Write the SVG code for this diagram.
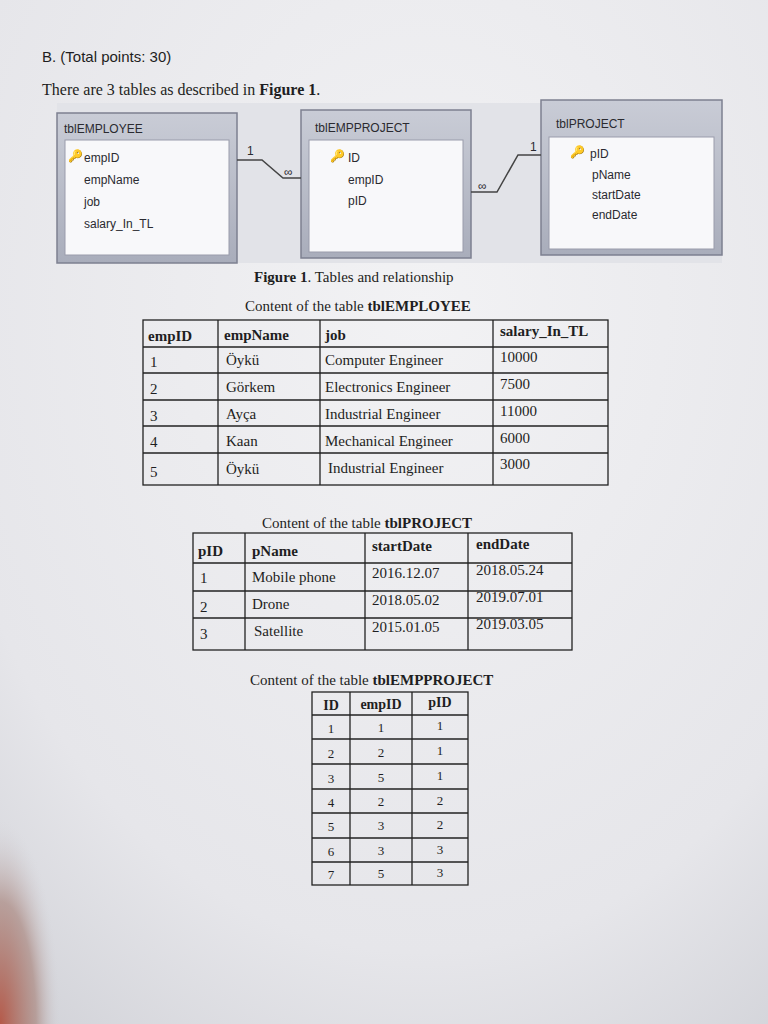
<svg xmlns="http://www.w3.org/2000/svg" width="768" height="1024" viewBox="0 0 768 1024">
<defs>
<radialGradient id="bg" cx="0.55" cy="0.3" r="0.9"><stop offset="0" stop-color="#f2f2f4"/><stop offset="0.7" stop-color="#e6e6ea"/><stop offset="1" stop-color="#cfd0d6"/></radialGradient>
<radialGradient id="finger" cx="0" cy="1" r="1"><stop offset="0" stop-color="#b55a4a"/><stop offset="0.6" stop-color="#a37a70" stop-opacity="0.6"/><stop offset="1" stop-color="#d0d0d6" stop-opacity="0"/></radialGradient>
<linearGradient id="title" x1="0" y1="0" x2="0" y2="1"><stop offset="0" stop-color="#c9ccd6"/><stop offset="1" stop-color="#a9adbb"/></linearGradient>
</defs>
<style>
text{font-family:"Liberation Serif",serif;fill:#1e1e22}
.s{font-family:"Liberation Sans",Arial,sans-serif}
.win{fill:url(#title);stroke:#7d8090;stroke-width:1.5}
.body{fill:#f8f8fa;stroke:#9a9cab}
.f{font-family:"Liberation Sans",Arial,sans-serif;font-size:12px;fill:#2a2a30}
.t{font-size:15px}
.b{font-weight:bold}
.g line,.g rect{stroke:#222;stroke-width:1.3;fill:none}
.c{stroke:#444;stroke-width:1.5;fill:none}
</style>
<rect width="768" height="1024" fill="url(#bg)"/>
<rect x="0" y="820" width="60" height="204" fill="url(#finger)"/>
<text x="42" y="62" class="s" font-size="15">B. (Total points: 30)</text>
<text x="42" y="95" font-size="16">There are 3 tables as described in <tspan font-weight="bold">Figure 1</tspan>.</text>
<rect x="57" y="103" width="665" height="160" fill="#e2e3e8"/>
<g id="tblEMPLOYEE"><rect class="win" x="57" y="113" width="180" height="150"/><rect class="body" x="65" y="140" width="164" height="115"/>
<text x="64" y="133" class="f" fill="#333">tblEMPLOYEE</text>
<text x="68" y="160" class="f" fill="#b8901c">&#x1F511;</text>
<text x="84" y="162" class="f">empID</text><text x="84" y="184" class="f">empName</text><text x="84" y="206" class="f">job</text><text x="84" y="228" class="f">salary_In_TL</text></g>
<g id="tblEMPPROJECT"><rect class="win" x="301" y="110" width="170" height="148"/><rect class="body" x="309" y="140" width="154" height="112"/>
<text x="315" y="132" class="f">tblEMPPROJECT</text>
<text x="330" y="160" class="f" fill="#b8901c">&#x1F511;</text>
<text x="348" y="162" class="f">ID</text><text x="348" y="184" class="f">empID</text><text x="348" y="205" class="f">pID</text></g>
<g id="tblPROJECT"><rect class="win" x="541" y="100" width="181" height="155"/><rect class="body" x="549" y="137" width="165" height="112"/>
<text x="556" y="128" class="f">tblPROJECT</text>
<text x="570" y="156" class="f" fill="#b8901c">&#x1F511;</text>
<text x="590" y="158" class="f">pID</text><text x="592" y="179" class="f">pName</text><text x="592" y="199" class="f">startDate</text><text x="592" y="219" class="f">endDate</text></g>
<g id="connectors">
<polyline class="c" points="237,160 262,160 283,178 301,178"/>
<text x="247" y="155" class="f" font-size="9">1</text><text x="284" y="176" class="f" font-size="11">∞</text>
<polyline class="c" points="471,192 497,192 518,155 541,155"/>
<text x="478" y="190" class="f" font-size="11">∞</text><text x="530" y="151" class="f" font-size="9">1</text>
</g>
<text x="254" y="282" font-size="15"><tspan class="b">Figure 1</tspan>. Tables and relationship</text>
<text x="245" y="311" font-size="15">Content of the table <tspan class="b">tblEMPLOYEE</tspan></text>
<g id="empTable" class="g">
<rect x="143" y="320" width="465" height="165"/>
<line x1="218" y1="320" x2="218" y2="485"/><line x1="320" y1="320" x2="320" y2="485"/><line x1="493" y1="320" x2="493" y2="485"/>
<line x1="143" y1="347" x2="608" y2="347"/><line x1="143" y1="373" x2="608" y2="373"/><line x1="143" y1="400" x2="608" y2="400"/><line x1="143" y1="426" x2="608" y2="426"/><line x1="143" y1="453" x2="608" y2="453"/>
</g>
<g class="t">
<text x="148" y="341" class="t b">empID</text><text x="224" y="340" class="t b">empName</text><text x="325" y="340" class="t b">job</text><text x="500" y="336" class="t b">salary_In_TL</text>
<text x="150" y="367" class="t">1</text><text x="226" y="365" class="t">Öykü</text><text x="325" y="365" class="t">Computer Engineer</text><text x="500" y="362" class="t">10000</text>
<text x="150" y="394" class="t">2</text><text x="226" y="392" class="t">Görkem</text><text x="325" y="392" class="t">Electronics Engineer</text><text x="500" y="389" class="t">7500</text>
<text x="150" y="421" class="t">3</text><text x="226" y="419" class="t">Ayça</text><text x="325" y="419" class="t">Industrial Engineer</text><text x="500" y="416" class="t">11000</text>
<text x="150" y="447" class="t">4</text><text x="226" y="446" class="t">Kaan</text><text x="325" y="446" class="t">Mechanical Engineer</text><text x="500" y="443" class="t">6000</text>
<text x="150" y="477" class="t">5</text><text x="226" y="474" class="t">Öykü</text><text x="328" y="473" class="t">Industrial Engineer</text><text x="500" y="469" class="t">3000</text>
</g>
<text x="262" y="528" font-size="15">Content of the table <tspan class="b">tblPROJECT</tspan></text>
<g id="projTable" class="g">
<rect x="193" y="533" width="379" height="117"/>
<line x1="245" y1="533" x2="245" y2="650"/><line x1="365" y1="533" x2="365" y2="650"/><line x1="468" y1="533" x2="468" y2="650"/>
<line x1="193" y1="563" x2="572" y2="563"/><line x1="193" y1="591" x2="572" y2="591"/><line x1="193" y1="618" x2="572" y2="618"/>
</g>
<text x="198" y="556" class="t b">pID</text><text x="252" y="556" class="t b">pName</text><text x="372" y="551" class="t b">startDate</text><text x="476" y="549" class="t b">endDate</text>
<text x="200" y="583" class="t">1</text><text x="252" y="582" class="t">Mobile phone</text><text x="372" y="578" class="t">2016.12.07</text><text x="476" y="575" class="t">2018.05.24</text>
<text x="200" y="612" class="t">2</text><text x="252" y="609" class="t">Drone</text><text x="372" y="605" class="t">2018.05.02</text><text x="476" y="602" class="t">2019.07.01</text>
<text x="200" y="639" class="t">3</text><text x="254" y="636" class="t">Satellite</text><text x="372" y="632" class="t">2015.01.05</text><text x="476" y="629" class="t">2019.03.05</text>
<text x="250" y="685" font-size="15">Content of the table <tspan class="b">tblEMPPROJECT</tspan></text>
<g id="epTable" class="g">
<rect x="312" y="692" width="156" height="193"/>
<line x1="350" y1="692" x2="350" y2="885"/><line x1="412" y1="692" x2="412" y2="885"/>
<line x1="312" y1="715" x2="468" y2="715"/><line x1="312" y1="739" x2="468" y2="739"/><line x1="312" y1="764" x2="468" y2="764"/><line x1="312" y1="789" x2="468" y2="789"/><line x1="312" y1="813" x2="468" y2="813"/><line x1="312" y1="838" x2="468" y2="838"/><line x1="312" y1="862" x2="468" y2="862"/>
</g>
<g font-family="Liberation Sans,Arial,sans-serif" font-size="13" text-anchor="middle">
<text x="331" y="710" class="b" font-family="Liberation Serif,serif" font-size="14">ID</text><text x="381" y="709" class="b" font-family="Liberation Serif,serif" font-size="14">empID</text><text x="440" y="707" class="b" font-family="Liberation Serif,serif" font-size="14">pID</text>
<text x="331" y="733">1</text><text x="381" y="732">1</text><text x="440" y="730">1</text>
<text x="331" y="758">2</text><text x="381" y="757">2</text><text x="440" y="755">1</text>
<text x="331" y="783">3</text><text x="381" y="782">5</text><text x="440" y="780">1</text>
<text x="331" y="807">4</text><text x="381" y="806">2</text><text x="440" y="805">2</text>
<text x="331" y="831">5</text><text x="381" y="830">3</text><text x="440" y="829">2</text>
<text x="331" y="856">6</text><text x="381" y="855">3</text><text x="440" y="854">3</text>
<text x="331" y="879">7</text><text x="381" y="878">5</text><text x="440" y="877">3</text>
</g>
</svg>
